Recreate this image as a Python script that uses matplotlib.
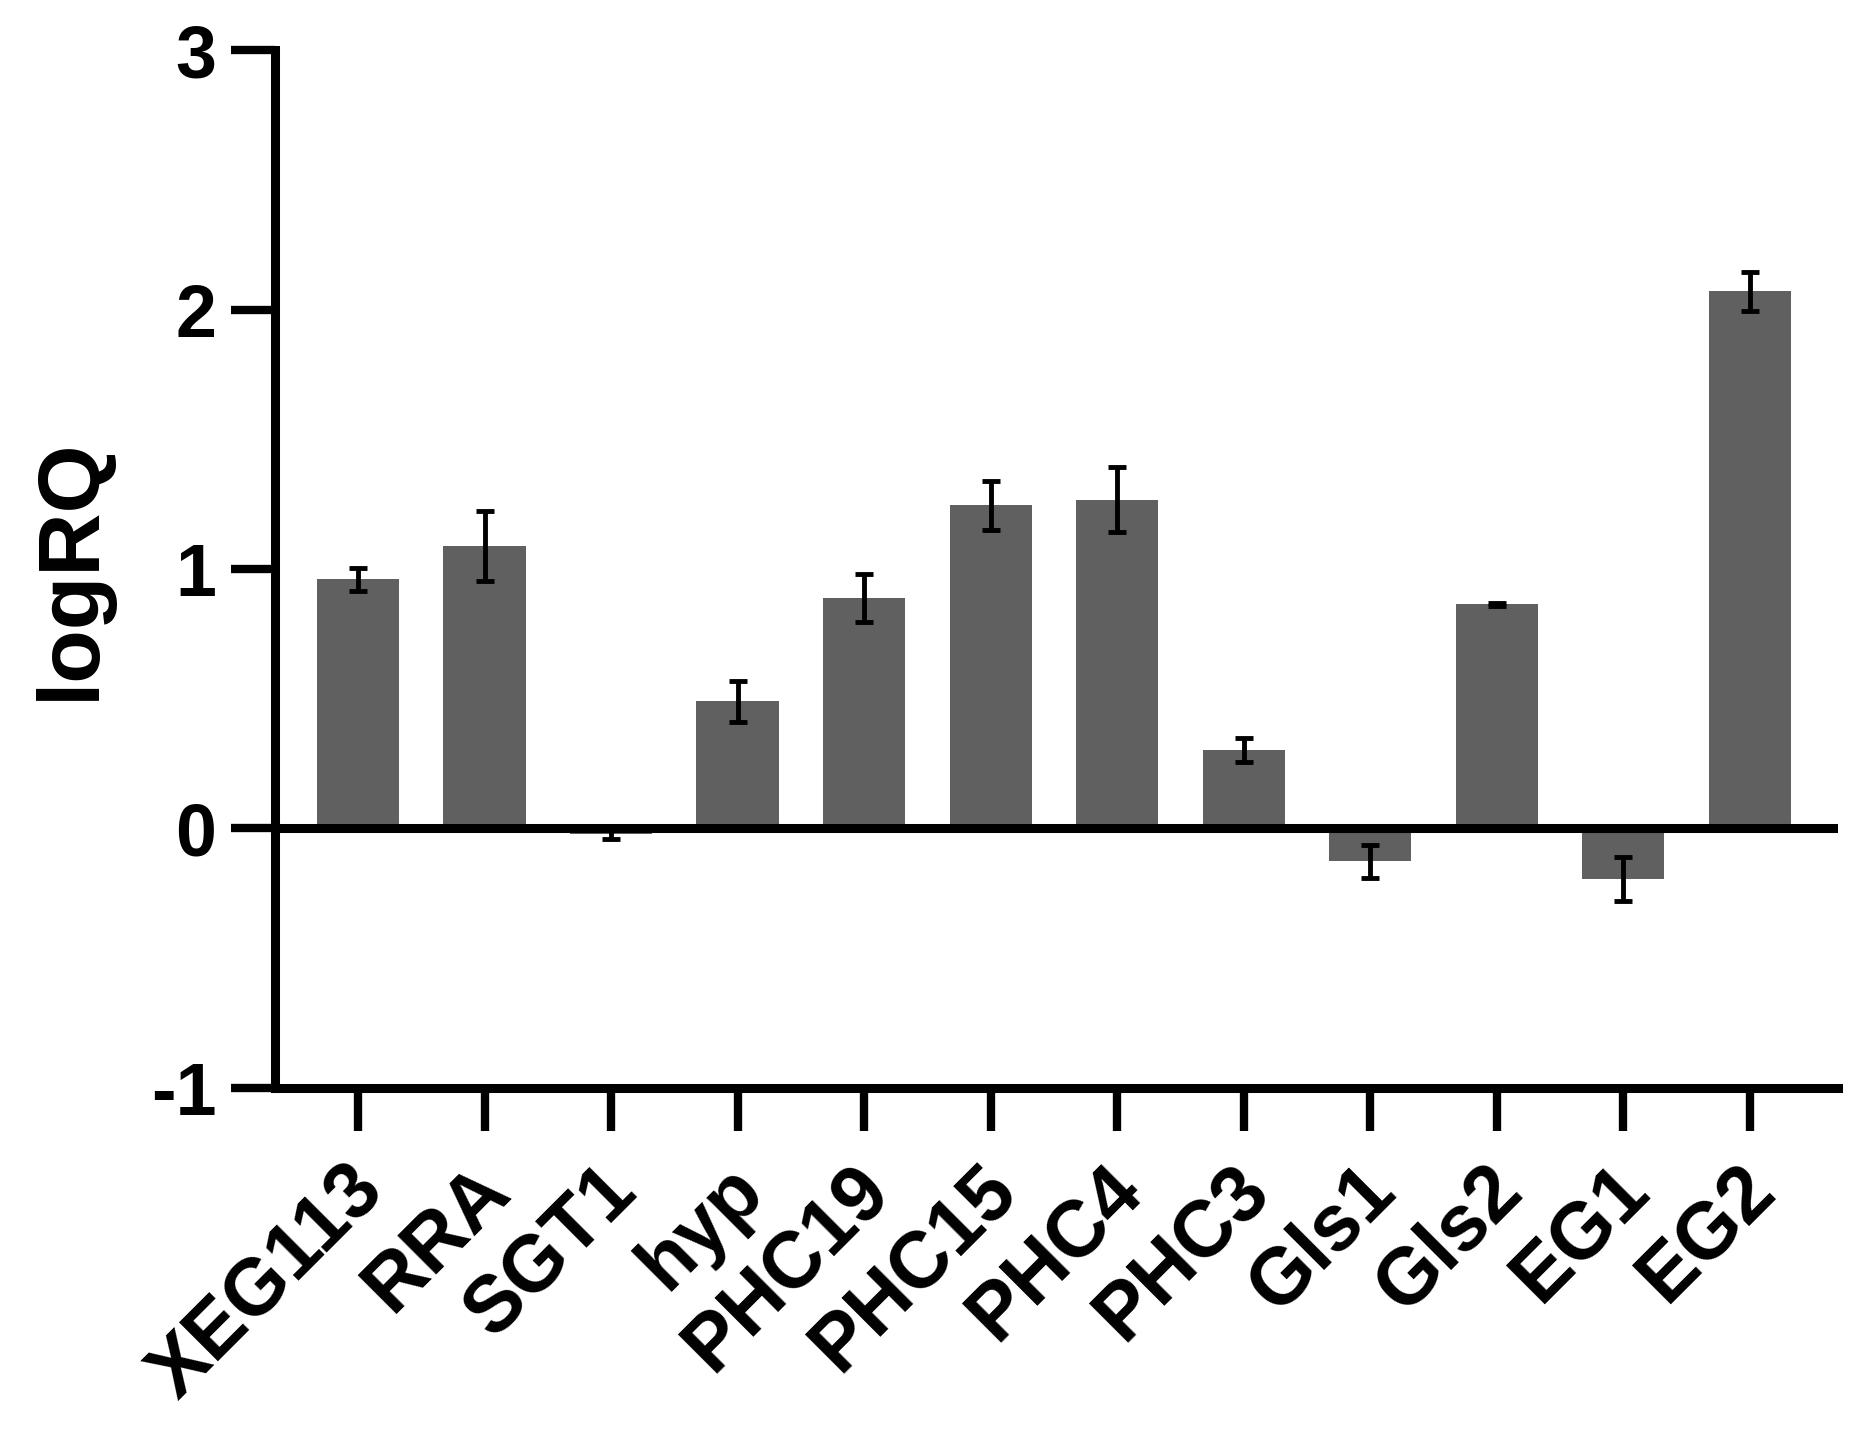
import matplotlib
matplotlib.use("Agg")
import matplotlib.pyplot as plt
import matplotlib.transforms as mtransforms
import numpy as np

plt.rcParams['font.family'] = ['Liberation Sans', 'DejaVu Sans']
plt.rcParams['font.weight'] = 'bold'

categories = ["XEG113", "RRA", "SGT1", "hyp", "PHC19", "PHC15", "PHC4",
              "PHC3", "Gls1", "Gls2", "EG1", "EG2"]
values = [0.96, 1.09, -0.02, 0.49, 0.887, 1.245, 1.267, 0.303, -0.127, 0.864, -0.194, 2.07]
errors = [0.045, 0.135, 0.02, 0.08, 0.093, 0.095, 0.126, 0.047, 0.062, 0.006, 0.085, 0.074]
yticks = [-1, 0, 1, 2, 3]

fig = plt.figure(figsize=(18.55, 14.33), dpi=100)
ax = fig.add_axes([0.148, 0.2408, 0.991 - 0.148, 0.965 - 0.2408])

x = np.arange(len(categories))
ax.bar(x, values, width=0.65, color='#606060', edgecolor='none', zorder=2)
ax.errorbar(x, values, yerr=errors, fmt='none', ecolor='black',
            elinewidth=3.5, capsize=6.5, capthick=3.5, zorder=3)
ax.axhline(0, color='black', lw=6.5, zorder=4)

ax.set_xlim(-0.66, 11.70)
ax.set_ylim(-1, 3)
ax.set_yticks(yticks)
ax.set_yticklabels([str(t) for t in yticks])
ax.set_xticks(x)
ax.set_xticklabels(categories, rotation=45, ha='right', va='center',
                   rotation_mode='anchor')

for s in ['top', 'right']:
    ax.spines[s].set_visible(False)
for s in ['left', 'bottom']:
    ax.spines[s].set_linewidth(6.5)
    ax.spines[s].set_color('black')

ax.tick_params(axis='y', direction='out', length=32, width=6, labelsize=53, pad=10)
ax.tick_params(axis='x', direction='out', length=31, width=6, labelsize=57, pad=34)
offset = mtransforms.ScaledTranslation(14 / 100, 0, fig.dpi_scale_trans)
for lbl in ax.get_xticklabels():
    lbl.set_fontweight('bold')
    lbl.set_transform(lbl.get_transform() + offset)
for lbl in ax.get_yticklabels():
    lbl.set_fontweight('bold')

ax.set_ylabel('logRQ', fontsize=63, fontweight='bold', labelpad=28)

fig.savefig('out.png', dpi=100)
